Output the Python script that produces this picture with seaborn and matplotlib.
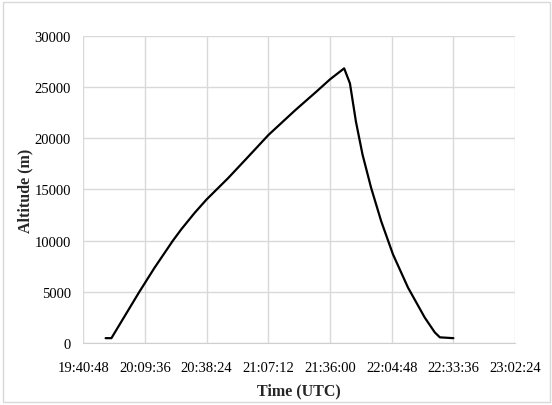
import pandas as pd
import seaborn as sns
import matplotlib.pyplot as plt
import matplotlib.ticker as mticker
from matplotlib.patches import Rectangle

# flight profile
times = ['19:51:12', '19:53:54', '20:06:54', '20:14:00', '20:22:36', '20:26:30',
         '20:32:48', '20:38:18', '20:48:30', '20:57:54', '21:07:18', '21:19:54',
         '21:29:18', '21:36:00', '21:42:36', '21:45:18', '21:48:06', '21:51:12',
         '21:55:12', '21:59:54', '22:05:24', '22:12:24', '22:20:12', '22:24:54',
         '22:27:18', '22:33:36']
altitudes = [500, 500, 5000, 7350, 10000, 11100,
             12720, 14010, 16120, 18210, 20320, 22750,
             24470, 25730, 26800, 25340, 21610, 18380,
             15150, 11900, 8670, 5440, 2520, 1070,
             580, 500]
x_ticks = ['19:40:48', '20:09:36', '20:38:24', '21:07:12',
           '21:36:00', '22:04:48', '22:33:36', '23:02:24']
y_ticks = [0, 5000, 10000, 15000, 20000, 25000, 30000]


def day_fraction(t: str) -> float:
    h, m, s = (int(v) for v in t.split(':'))
    return (h * 3600 + m * 60 + s) / 86400


def fmt_time(val, pos) -> str:
    secs = int(round(val * 86400))
    return f"{secs // 3600:02d}:{secs % 3600 // 60:02d}:{secs % 60:02d}"


df = pd.DataFrame({'t': [day_fraction(t) for t in times], 'alt': altitudes})

sns.set_style('white')
plt.rcParams['font.family'] = ['Liberation Serif', 'DejaVu Serif']

fig = plt.figure(figsize=(5.52, 4.06), dpi=100)
ax = fig.add_axes([0.151, 0.152, 0.782, 0.758])
sns.lineplot(data=df, x='t', y='alt', color='black', linewidth=1.6, ax=ax)

xt = [day_fraction(t) for t in x_ticks]
ax.set_xlim(xt[0], xt[-1])
ax.set_xticks(xt)
ax.xaxis.set_major_formatter(mticker.FuncFormatter(fmt_time))
ax.set_ylim(0, 30000)
ax.set_yticks(y_ticks)

ax.grid(True, color='#d9d9d9', linewidth=1)
for side in ['top', 'right', 'left']:
    ax.spines[side].set_visible(False)
ax.spines['bottom'].set_color('#cfcfcf')
ax.tick_params(axis='both', length=0, labelsize=10.5, colors='black')
ax.tick_params(axis='x', pad=13)
ax.tick_params(axis='y', pad=9)

ax.set_xlabel('Time (UTC)', fontsize=11.5, fontweight='bold', labelpad=6)
ax.set_ylabel('Altitude (m)', fontsize=11.5, fontweight='bold', labelpad=1)

fig.patches.append(Rectangle((3 / 552, 3 / 406), 547 / 552, 400 / 406,
                             transform=fig.transFigure, fill=False,
                             edgecolor='#d9d9d9', linewidth=1))

plt.savefig('out.png', dpi=100)
